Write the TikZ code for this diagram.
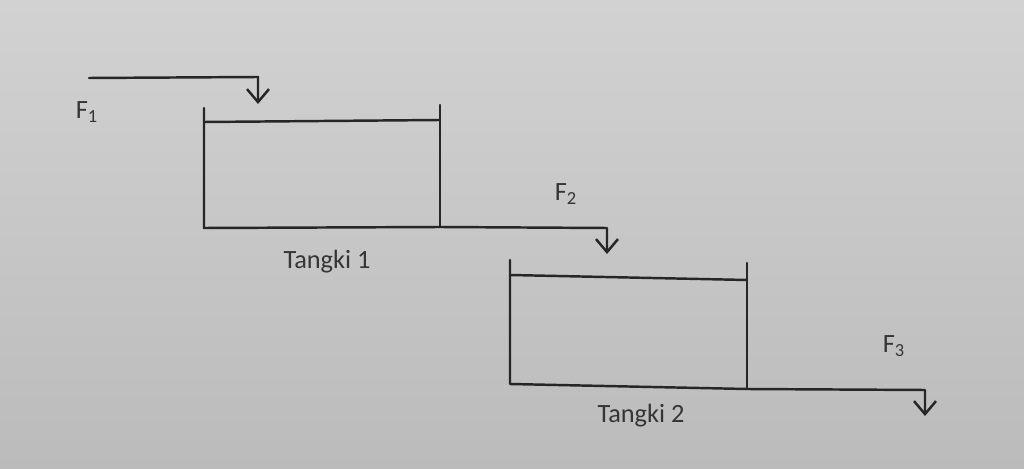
\documentclass[tikz,border=0pt]{standalone}
\usepackage{fontspec}
\setmainfont{Carlito}
\usetikzlibrary{arrows.meta}
\definecolor{paper}{HTML}{C8C8C8}
\definecolor{paperlight}{HTML}{D2D2D2}
\definecolor{paperdark}{HTML}{BBBBBB}
\definecolor{ink}{HTML}{262626}
\definecolor{txt}{HTML}{353535}
\tikzset{
  pipe/.style={draw=ink, line width=1.4pt, line cap=round, line join=round},
  flow/.style={pipe, -{Straight Barb[length=2.6mm, width=4.4mm, line width=1.4pt]}},
  lbl/.style={text=txt, font=\fontsize{15}{17}\selectfont, inner sep=0pt},
}
\begin{document}
\begin{tikzpicture}[x=0.02cm, y=-0.02cm]
  \useasboundingbox (0,0) rectangle (1024,469);
  \shade[top color=paperlight, bottom color=paperdark] (0,0) rectangle (1024,469);
  % tank 1
  \coordinate (t1tl) at (204,108);
  \coordinate (t1bl) at (204,228);
  \coordinate (t1tr) at (440,105);
  \coordinate (t1br) at (440,227);
  \coordinate (t1ll) at (204,122);
  \coordinate (t1lr) at (440,120);
  % tank 2
  \coordinate (t2tl) at (510,260);
  \coordinate (t2bl) at (510,384);
  \coordinate (t2tr) at (747,263);
  \coordinate (t2br) at (747,389);
  \coordinate (t2ll) at (510,275);
  \coordinate (t2lr) at (747,280);
  % inlet F1
  \coordinate (f1s) at (89,78);
  \coordinate (f1c) at (258,77);
  \coordinate (f1e) at (258,104);
  % outlet F2
  \coordinate (f2c) at (607,228);
  \coordinate (f2e) at (607,254);
  % outlet F3
  \coordinate (f3c) at (925,390);
  \coordinate (f3e) at (925,416);

  \draw[pipe] (t1tl) -- (t1bl) -- (t1br);
  \draw[pipe] (t1tr) -- (t1br);
  \draw[pipe] (t1ll) -- (t1lr);
  \draw[pipe] (t2tl) -- (t2bl) -- (t2br);
  \draw[pipe] (t2tr) -- (t2br);
  \draw[pipe] (t2ll) -- (t2lr);

  \draw[flow] (f1s) -- (f1c) -- (f1e);
  \draw[flow] (t1br) -- (f2c) -- (f2e);
  \draw[flow] (t2br) -- (f3c) -- (f3e);

  \node[lbl] (lf1) at (87,112) {F\textsubscript{1}};
  \node[lbl] (lf2) at (566,194) {F\textsubscript{2}};
  \node[lbl] (lf3) at (894,346) {F\textsubscript{3}};
  \node[lbl] (ltk1) at (327,262) {Tangki 1};
  \node[lbl] (ltk2) at (641,416) {Tangki 2};
\end{tikzpicture}
\end{document}
